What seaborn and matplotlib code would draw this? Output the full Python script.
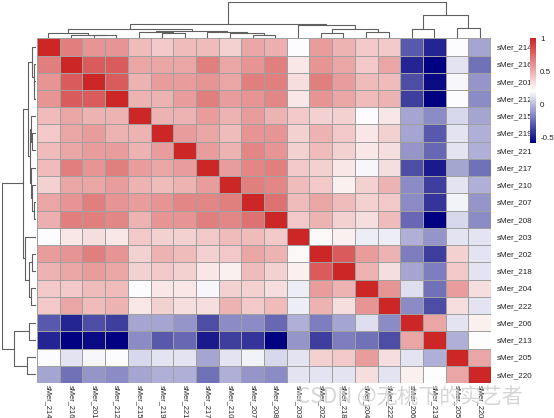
import numpy as np
import pandas as pd
import matplotlib
matplotlib.use('Agg')
import matplotlib.pyplot as plt
from matplotlib.colors import LinearSegmentedColormap
import seaborn as sns

samples = ['sMer_214', 'sMer_216', 'sMer_201', 'sMer_212', 'sMer_215', 'sMer_219',
           'sMer_221', 'sMer_217', 'sMer_210', 'sMer_207', 'sMer_208', 'sMer_203',
           'sMer_202', 'sMer_218', 'sMer_204', 'sMer_222', 'sMer_206', 'sMer_213',
           'sMer_205', 'sMer_220']

# lower triangle of the correlation matrix (diagonal = 1)
lower_tri = [
    [],
    [0.68],
    [0.60, 0.80],
    [0.60, 0.80, 0.80],
    [0.45, 0.53, 0.49, 0.49],
    [0.41, 0.53, 0.57, 0.49, 0.49],
    [0.45, 0.53, 0.57, 0.57, 0.49, 0.57],
    [0.45, 0.68, 0.60, 0.68, 0.57, 0.53, 0.57],
    [0.37, 0.53, 0.53, 0.57, 0.49, 0.45, 0.49, 0.57],
    [0.53, 0.60, 0.68, 0.60, 0.57, 0.60, 0.64, 0.64, 0.68],
    [0.51, 0.68, 0.68, 0.64, 0.49, 0.60, 0.60, 0.68, 0.64, 0.72],
    [0.21, 0.29, 0.33, 0.29, 0.41, 0.37, 0.37, 0.41, 0.45, 0.45, 0.41],
    [0.57, 0.60, 0.68, 0.60, 0.37, 0.49, 0.45, 0.37, 0.41, 0.53, 0.49, 0.23],
    [0.49, 0.53, 0.57, 0.53, 0.37, 0.41, 0.37, 0.29, 0.27, 0.45, 0.37, 0.26, 0.80],
    [0.41, 0.41, 0.45, 0.45, 0.21, 0.30, 0.30, 0.19, 0.37, 0.37, 0.33, 0.15, 0.57, 0.49],
    [0.41, 0.53, 0.45, 0.49, 0.29, 0.37, 0.33, 0.33, 0.49, 0.41, 0.45, 0.15, 0.49, 0.33, 0.60],
    [-0.30, -0.46, -0.34, -0.38, -0.07, -0.07, -0.11, -0.34, -0.15, -0.15, -0.26, -0.03,
     -0.19, -0.07, 0.11, -0.15],
    [-0.46, -0.58, -0.54, -0.58, -0.15, -0.30, -0.26, -0.50, -0.38, -0.42, -0.58, -0.11,
     -0.38, -0.19, -0.22, -0.34, 0.53],
    [0.20, 0.13, 0.19, 0.21, 0.09, 0.13, 0.13, -0.07, 0.13, 0.17, 0.09, 0.13, 0.37, 0.41,
     0.57, 0.33, 0.13, -0.03],
    [-0.07, -0.22, -0.11, -0.15, -0.07, -0.03, -0.03, -0.22, -0.03, -0.11, -0.15, 0.13,
     0.13, 0.13, 0.33, 0.13, 0.26, 0.22, 0.53],
]

# hierarchical clustering merges: (child a, child b, height); ids >= 20 are earlier merges
merges = [
    (2, 3, 2.4), (1, 20, 3.0), (0, 21, 5.0),
    (5, 6, 5.0), (4, 23, 6.0),
    (9, 10, 3.0), (8, 25, 5.0), (7, 26, 5.8),
    (24, 27, 7.0), (22, 28, 9.0),
    (12, 13, 4.3), (14, 15, 6.0), (30, 31, 8.3), (11, 32, 12.3),
    (29, 33, 14.0),
    (16, 17, 8.3), (18, 19, 10.0), (35, 36, 23.3),
    (34, 37, 36.6),
]

n = len(samples)
mat = np.eye(n)
for i, row in enumerate(lower_tri):
    for j, v in enumerate(row):
        mat[i, j] = v
        mat[j, i] = v
df = pd.DataFrame(mat, index=samples, columns=samples)

plt.rcParams['font.family'] = ['Liberation Sans', 'DejaVu Sans']

W, H = 554, 418
fig = plt.figure(figsize=(W / 100, H / 100), dpi=100)


def px_axes(x0, y0, x1, y1):
    return fig.add_axes([x0 / W, 1 - y1 / H, (x1 - x0) / W, (y1 - y0) / H])


ax = px_axes(37, 38.3, 491, 383)
cax = px_axes(530, 38.3, 536, 143)
ax_top = px_axes(37, 1.5, 491, 37.5)
ax_left = px_axes(1.5, 38.3, 36.5, 383)

cmap = LinearSegmentedColormap.from_list('nwf', ['navy', 'white', '#CD2626'], N=100)
sns.heatmap(df, ax=ax, cmap=cmap, vmin=df.values.min(), vmax=1,
            linewidths=0.6, linecolor='#a0a0a0', cbar_ax=cax,
            xticklabels=samples, yticklabels=samples)
ax.yaxis.tick_right()
ax.tick_params(axis='y', length=0, pad=4, labelsize=5.8, labelrotation=0, colors='#222222')
ax.tick_params(axis='x', length=0, pad=1.5, labelsize=5.4, labelrotation=270, colors='#222222')
for t in ax.get_xticklabels():
    t.set_va('top')
    t.set_ha('center')
ax.set_xlabel('')
ax.set_ylabel('')

cax.tick_params(length=0, labelsize=5.8, pad=3, colors='#222222')
cax.set_yticks([1, 0.5, 0, -0.5])
cax.set_yticklabels(['1', '0.5', '0', '-0.5'])
for s in cax.spines.values():
    s.set_visible(False)

# dendrogram coordinates from the merge list
pos = {i: i + 0.5 for i in range(n)}
hgt = {i: 0.0 for i in range(n)}
root_h = max(m[2] for m in merges)
for k, (a, b, h) in enumerate(merges):
    node = n + k
    xa, xb = pos[a], pos[b]
    ha, hb = hgt[a], hgt[b]
    ax_top.plot([xa, xa, xb, xb], [ha, h, h, hb], color='#606060', lw=0.8)
    ax_left.plot([ha, h, h, hb], [xa, xa, xb, xb], color='#606060', lw=0.8)
    pos[node] = (xa + xb) / 2
    hgt[node] = h

ax_top.set_xlim(0, n)
ax_top.set_ylim(0, root_h)
ax_left.set_ylim(n, 0)
ax_left.set_xlim(root_h, 0)
for a in (ax_top, ax_left):
    a.axis('off')

fig.text(297 / W, 1 - 397 / H, 'CSDN @无桃下的实艺者', fontsize=15, color='#cfcfcf',
         alpha=0.85, va='center', ha='left',
         family=['Noto Sans CJK SC', 'DejaVu Sans'])

fig.savefig('out.png', dpi=100)
